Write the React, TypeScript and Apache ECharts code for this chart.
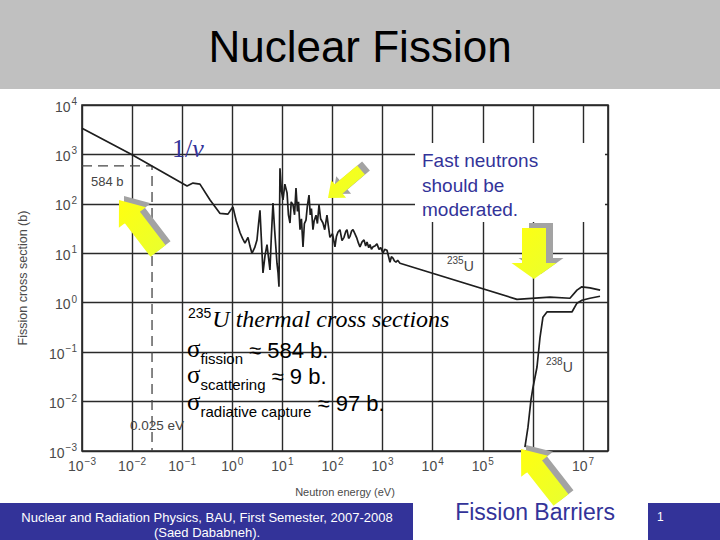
import React, { useEffect, useRef } from "react";
import * as echarts from "echarts";

// ---- data ----
// U-235 fission cross section: neutron energy (eV) and cross section (b)
const ENERGY_235 = [
  0.001, 0.01, 0.125, 0.164, 0.226, 0.36, 0.57, 0.82,
  1.03, 1.2, 1.43, 1.6, 1.79, 2.06, 2.25, 2.47, 2.8, 3.11, 3.35, 3.57, 3.8, 4.1, 4.5, 4.93, 5.3,
  5.65, 6.0, 6.49, 7.0, 7.8, 8.2, 8.55, 8.95, 9.6, 10.3, 11.2, 12.4, 13.2, 14.2, 15, 16.3, 17.5,
  18.7, 20, 21, 22.5, 24, 25.8, 27.5, 29.6, 31.5, 34, 36, 38, 40.8, 43, 46.9, 50, 53.8, 58, 64.6,
  70, 77.6, 83, 89, 100, 112, 120, 129, 141, 155, 170, 185, 195, 210, 224, 240, 257, 280, 308,
  330, 354, 390, 426, 460, 489, 530, 561, 600, 643, 700, 773, 850, 920, 1020, 1100, 1225, 1300,
  1406, 1500, 1615, 1720, 1850, 2000, 2225,
  482000, 2.19e6, 5.5e6, 7.6e6, 9.5e6, 1.38e7, 2.2e7,
];
const SIGMA_235 = [
  3400, 980, 230, 263, 251, 120, 64, 62,
  87, 45, 26, 20, 16, 21, 14, 10, 13, 18.6, 40, 74, 20, 4, 9, 15, 8,
  4.6, 20, 104, 30, 6.3, 4, 2.1, 525, 180, 120, 250, 167, 60, 41, 110, 95, 60,
  209, 70, 110, 30, 50, 13.5, 40, 47, 90, 151, 60, 80, 30, 45, 59, 40, 95, 50, 41,
  30, 59, 35, 21, 25, 13.5, 22, 27, 30, 18, 21, 28, 30, 20, 22, 28, 30, 25, 20,
  16, 13.5, 17, 18.6, 14, 17, 13, 15, 12, 13.5, 14, 15.5, 12, 13, 10, 12, 11.5, 9,
  6.6, 8.5, 8, 7, 6.6, 7.2, 6.3,
  1.17, 1.3, 1.23, 1.8, 2.1, 2.0, 1.8,
];
// U-238 fission cross section
const ENERGY_238 = [6.95e5, 7.98e5, 9.16e5, 1.0e6, 1.21e6, 1.39e6, 1.59e6, 1.91e6, 6.03e6, 7.59e6, 9.55e6, 1.38e7, 2.19e7];
const SIGMA_238 = [0.0012, 0.003, 0.0107, 0.0186, 0.05, 0.2, 0.51, 0.65, 0.65, 0.98, 1.12, 1.23, 1.35];

// thermal point
const THERMAL_ENERGY = 0.025; // eV
const THERMAL_SIGMA = 584; // b

// axis ranges (log10 exponents)
const X_EXP_MIN = -3;
const X_EXP_MAX = 7.5;
const Y_EXP_MIN = -3;
const Y_EXP_MAX = 4;

const BLUE = "#333399";
const SANS = "Liberation Sans, Arial, sans-serif";
const SERIF = "Liberation Serif, Times New Roman, serif";

const toLog = (es: number[], ss: number[]) => es.map((e, i) => [Math.log10(e), Math.log10(ss[i])]);

function arrowPts(tip: number[], tail: number[], shaftW: number, headW: number, headL: number, off = [0, 0]) {
  const dx = tip[0] - tail[0];
  const dy = tip[1] - tail[1];
  const len = Math.hypot(dx, dy);
  const ux = dx / len, uy = dy / len;
  const px = -uy, py = ux;
  const bx = tip[0] - ux * headL, by = tip[1] - uy * headL;
  const pts = [
    [tip[0], tip[1]],
    [bx + px * headW / 2, by + py * headW / 2],
    [bx + px * shaftW / 2, by + py * shaftW / 2],
    [tail[0] + px * shaftW / 2, tail[1] + py * shaftW / 2],
    [tail[0] - px * shaftW / 2, tail[1] - py * shaftW / 2],
    [bx - px * shaftW / 2, by - py * shaftW / 2],
    [bx - px * headW / 2, by - py * headW / 2],
  ];
  return pts.map((p) => [p[0] + off[0], p[1] + off[1]]);
}

function arrow(tip: number[], tail: number[], shaftW: number, headW: number, headL: number, shadow: number[]) {
  return [
    { type: "polygon", z: 120, shape: { points: arrowPts(tip, tail, shaftW, headW, headL, shadow) }, style: { fill: "#a3a3a3" } },
    {
      type: "polygon",
      z: 121,
      shape: { points: arrowPts(tip, tail, shaftW, headW, headL) },
      style: {
        fill: new echarts.graphic.LinearGradient(0, 0, 1, 1, [
          { offset: 0, color: "#ffff10" },
          { offset: 1, color: "#e8ff30" },
        ]),
      },
    },
  ];
}

const expLabel = (v: number) => {
  if (Math.abs(v - Math.round(v)) > 1e-6) return "";
  const n = Math.round(v);
  return `{b|10}{s|${n < 0 ? "−" + -n : n}}`;
};

const labelRich = {
  b: { fontSize: 14, color: "#4a4a4a", fontFamily: SANS, verticalAlign: "bottom" },
  s: { fontSize: 10, color: "#4a4a4a", fontFamily: SANS, verticalAlign: "bottom", padding: [0, 0, 7, 1] },
};

export default function App() {
  const ref = useRef<HTMLDivElement>(null);
  useEffect(() => {
    if (!ref.current) return;
    const chart = echarts.init(ref.current, null, { renderer: "svg" });
    const thermalLine = [
      [X_EXP_MIN, Math.log10(THERMAL_SIGMA)],
      [Math.log10(THERMAL_ENERGY), Math.log10(THERMAL_SIGMA)],
      [Math.log10(THERMAL_ENERGY), Y_EXP_MIN],
    ];
    const mainRich = {
      sig: { fontFamily: SERIF, fontSize: 25, color: "#000", verticalAlign: "bottom", padding: [0, 0, 5, 0] },
      sub: { fontFamily: SANS, fontSize: 15, color: "#000", verticalAlign: "bottom" },
      m: { fontFamily: SANS, fontSize: 22, color: "#000", verticalAlign: "bottom", padding: [0, 0, 5, 0] },
    };
    const isoRich = {
      s: { fontSize: 10, fontFamily: SANS, fill: "#444", verticalAlign: "bottom", padding: [0, 0, 7, 0] },
      b: { fontSize: 14, fontFamily: SANS, fill: "#444", verticalAlign: "bottom" },
    };
    chart.setOption({
      animation: false,
      backgroundColor: "#fff",
      grid: { left: 82, right: 112, top: 105, bottom: 89, show: true, borderColor: "#222", borderWidth: 1.6, containLabel: false },
      xAxis: {
        type: "value",
        min: X_EXP_MIN,
        max: X_EXP_MAX,
        interval: 1,
        axisLine: { show: false },
        axisTick: { show: false },
        splitLine: { show: true, lineStyle: { color: "#2a2a2a", width: 1.4 } },
        axisLabel: { formatter: expLabel, rich: labelRich, margin: 5, showMaxLabel: false },
        name: "Neutron energy (eV)",
        nameLocation: "middle",
        nameGap: 35,
        nameTextStyle: { fontFamily: SANS, fontSize: 11, color: "#4a4a4a" },
      },
      yAxis: {
        type: "value",
        min: Y_EXP_MIN,
        max: Y_EXP_MAX,
        interval: 1,
        axisLine: { show: false },
        axisTick: { show: false },
        splitLine: { show: true, lineStyle: { color: "#2a2a2a", width: 1.4 } },
        axisLabel: { formatter: expLabel, rich: labelRich, margin: 5 },
        name: "Fission cross section (b)",
        nameLocation: "middle",
        nameGap: 53,
        nameTextStyle: { fontFamily: SANS, fontSize: 12.5, color: "#4a4a4a" },
      },
      series: [
        {
          type: "line",
          data: thermalLine,
          showSymbol: false,
          lineStyle: { color: "#444", width: 1.3, type: [10, 6] },
          z: 3,
        },
        {
          type: "line",
          data: toLog(ENERGY_235, SIGMA_235),
          showSymbol: false,
          lineStyle: { color: "#1e1e1e", width: 1.7 },
          z: 4,
        },
        {
          type: "line",
          data: toLog(ENERGY_238, SIGMA_238),
          showSymbol: false,
          lineStyle: { color: "#1e1e1e", width: 1.7 },
          z: 4,
        },
      ],
      graphic: [
        // title band
        { type: "rect", z: 100, shape: { x: 0, y: 0, width: 720, height: 89 }, style: { fill: "#c0c0c0" } },
        {
          type: "text", z: 101, x: 360, y: 46,
          style: { text: "Nuclear Fission", fontFamily: SANS, fontSize: 44, fill: "#000", align: "center", verticalAlign: "middle" },
        },
        // chart labels
        { type: "text", z: 101, x: 91, y: 181, style: { text: "584 b", fontFamily: SANS, fontSize: 13, fill: "#444", verticalAlign: "middle" } },
        { type: "text", z: 101, x: 130, y: 425, style: { text: "0.025 eV", fontFamily: SANS, fontSize: 13.5, fill: "#444", verticalAlign: "middle" } },
        { type: "text", z: 101, x: 447, y: 264, style: { text: "{s|235}{b|U}", verticalAlign: "middle", rich: isoRich } },
        { type: "text", z: 101, x: 546, y: 365, style: { text: "{s|238}{b|U}", verticalAlign: "middle", rich: isoRich } },
        // 1/v
        {
          type: "text", z: 101, x: 172, y: 148,
          style: {
            text: "{a|1/}{v|v}", verticalAlign: "middle",
            rich: {
              a: { fontFamily: SERIF, fontSize: 26, fill: BLUE },
              v: { fontFamily: SERIF, fontSize: 26, fontStyle: "italic", fill: BLUE },
            },
          },
        },
        // fast neutrons box
        { type: "rect", z: 100, shape: { x: 415, y: 143, width: 190, height: 79 }, style: { fill: "#fff" } },
        { type: "text", z: 101, x: 422, y: 160, style: { text: "Fast neutrons", fontFamily: SANS, fontSize: 19, fill: BLUE, verticalAlign: "middle" } },
        { type: "text", z: 101, x: 422, y: 185, style: { text: "should be", fontFamily: SANS, fontSize: 19, fill: BLUE, verticalAlign: "middle" } },
        { type: "text", z: 101, x: 422, y: 209, style: { text: "moderated.", fontFamily: SANS, fontSize: 19, fill: BLUE, verticalAlign: "middle" } },
        // thermal cross sections text
        {
          type: "text", z: 101, x: 188, y: 318,
          style: {
            text: "{s|235}{u|U thermal cross sections}", verticalAlign: "middle",
            rich: {
              s: { fontFamily: SANS, fontSize: 14, fill: "#000", verticalAlign: "bottom", padding: [0, 1, 11, 0] },
              u: { fontFamily: SERIF, fontSize: 24, fontStyle: "italic", fill: "#000", verticalAlign: "bottom" },
            },
          },
        },
        { type: "text", z: 101, x: 187, y: 351, style: { text: "{sig|σ}{sub|fission}{m| ≈ 584 b.}", verticalAlign: "middle", rich: mainRich } },
        { type: "text", z: 101, x: 187, y: 377, style: { text: "{sig|σ}{sub|scattering}{m| ≈ 9 b.}", verticalAlign: "middle", rich: mainRich } },
        { type: "text", z: 101, x: 187, y: 404, style: { text: "{sig|σ}{sub|radiative capture}{m| ≈ 97 b.}", verticalAlign: "middle", rich: mainRich } },
        // arrows
        ...arrow([119, 200], [158, 251], 19, 34, 22, [5, -4]),
        ...arrow([328, 198], [361, 170], 12, 23, 14, [5, -4]),
        ...arrow([534, 279], [534, 228], 24, 45, 16, [7, -5]),
        ...arrow([521, 449], [561, 500], 19, 34, 22, [5, -4]),
        // footer
        { type: "rect", z: 100, shape: { x: 0, y: 503, width: 413, height: 37 }, style: { fill: BLUE } },
        { type: "rect", z: 100, shape: { x: 648, y: 503, width: 72, height: 37 }, style: { fill: BLUE } },
        {
          type: "text", z: 101, x: 207, y: 517,
          style: { text: "Nuclear and Radiation Physics, BAU, First Semester, 2007-2008", fontFamily: SANS, fontSize: 13, fill: "#fff", align: "center", verticalAlign: "middle" },
        },
        {
          type: "text", z: 101, x: 207, y: 532,
          style: { text: "(Saed Dababneh).", fontFamily: SANS, fontSize: 13, fill: "#fff", align: "center", verticalAlign: "middle" },
        },
        { type: "text", z: 101, x: 657, y: 517, style: { text: "1", fontFamily: SANS, fontSize: 12, fill: "#fff", verticalAlign: "middle" } },
        {
          type: "text", z: 101, x: 535, y: 512,
          style: { text: "Fission Barriers", fontFamily: SANS, fontSize: 23, fill: BLUE, align: "center", verticalAlign: "middle" },
        },
      ],
    });
    return () => chart.dispose();
  }, []);
  return <div ref={ref} style={{ position: "fixed", left: 0, top: 0, width: 720, height: 540 }} />;
}
